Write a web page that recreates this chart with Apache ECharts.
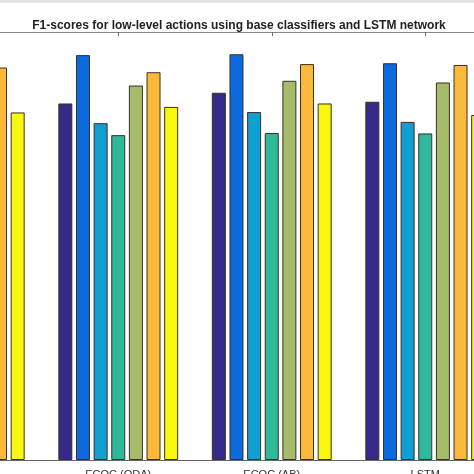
<!DOCTYPE html>
<html>
<head>
<meta charset="utf-8">
<script src="https://cdn.jsdelivr.net/npm/echarts@6/dist/echarts.min.js"></script>
<style>html,body{margin:0;padding:0;background:#fff;overflow:hidden;width:474px;height:474px;position:relative;}
#c{position:absolute;left:-112px;top:0;width:614px;height:474px;}
#strip{position:absolute;left:0;top:0;width:474px;height:3px;background:#e4e4e4;z-index:5;}</style>
</head>
<body>
<div id="c"></div>
<div id="strip"></div>
<script>
var categories = ['ECOC (SVM)', 'ECOC (QDA)', 'ECOC (AB)', 'LSTM'];
var seriesNames = ['Action 1', 'Action 2', 'Action 3', 'Action 4', 'Action 5', 'Action 6', 'Action 7'];
var colors = ['#342a89', '#0a6ade', '#119ed1', '#30b89b', '#a5bd6a', '#fcb83a', '#f8f710'];
var action1 = [null, 0.833, 0.858, 0.837];
var action2 = [null, 0.946, 0.948, 0.927];
var action3 = [null, 0.787, 0.813, 0.790];
var action4 = [null, 0.759, 0.764, 0.763];
var action5 = [null, 0.875, 0.886, 0.882];
var action6 = [0.917, 0.906, 0.925, 0.923];
var action7 = [0.812, 0.825, 0.833, 0.806];
var values = [action1, action2, action3, action4, action5, action6, action7];
var titleText = 'F1-scores for low-level actions using base classifiers and LSTM network';

var chart = echarts.init(document.getElementById('c'), null, {renderer: 'canvas'});
var series = values.map(function (v, i) {
  return {
    name: seriesNames[i],
    type: 'bar',
    data: v,
    barWidth: 14,
    barGap: '26%',
    itemStyle: {color: colors[i], borderColor: '#3a3020', borderWidth: 1}
  };
});
chart.setOption({
  animation: false,
  backgroundColor: '#ffffff',
  title: {
    text: titleText,
    left: 346, top: 15, textAlign: 'center',
    textStyle: {fontFamily: 'Liberation Sans, Arial, sans-serif', fontSize: 12, fontWeight: 'bold', color: '#222'}
  },
  grid: {left: 0, right: 0, top: 32, bottom: 14, containLabel: false, outerBoundsMode: 'none'},
  xAxis: [{
    type: 'category', data: categories, position: 'bottom',
    axisLine: {lineStyle: {color: '#666', width: 1}},
    axisTick: {show: true, inside: true, length: 4, alignWithLabel: true, lineStyle: {color: '#666'}},
    axisLabel: {margin: 9, fontSize: 11, color: '#333', fontFamily: 'Liberation Sans, Arial, sans-serif'}
  }, {
    type: 'category', data: categories, position: 'top',
    axisLine: {lineStyle: {color: '#888', width: 1}},
    axisTick: {show: true, inside: true, length: 4, alignWithLabel: true, lineStyle: {color: '#666'}},
    axisLabel: {show: false}
  }],
  yAxis: {type: 'value', min: 0, max: 1, interval: 0.1, splitLine: {show: false}, axisLabel: {show: false}, axisLine: {show: true}},
  series: series
});
</script>
</body>
</html>
